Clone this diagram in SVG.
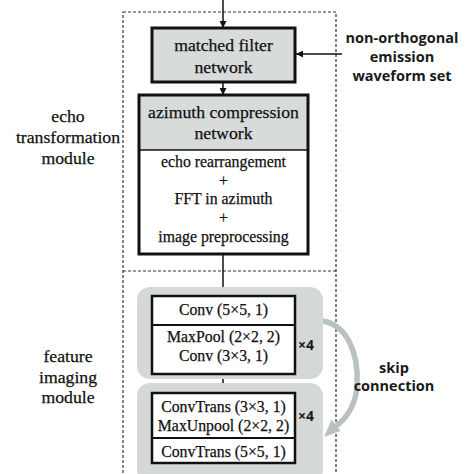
<svg xmlns="http://www.w3.org/2000/svg" width="474" height="474" viewBox="0 0 474 474">
<style>
.serif{font-family:"Liberation Serif","Times New Roman",serif;fill:#111;stroke:#111;stroke-width:0.25;text-anchor:middle}
.h{font-size:17.7px}
.b{font-size:15.8px}
.sans{font-family:"Open Sans","Liberation Sans",sans-serif;font-weight:700;font-size:14.5px;fill:#1a1a1a;text-anchor:middle}
.x4{font-family:"Open Sans","Liberation Sans",sans-serif;font-weight:700;font-size:14px;fill:#1a1a1a}
.gbox{stroke:#111;stroke-width:3;fill:#d7dbda}
.inner{stroke:#111;stroke-width:2.5;fill:#fff}
.grp{fill:#d4d9d8}
.dash{fill:none;stroke:#333;stroke-width:1.2;stroke-dasharray:3 2}
.ln{stroke:#111;stroke-width:1.5;fill:none}
</style>
<defs>
<marker id="ah" viewBox="0 0 10 10" refX="10" refY="5" markerWidth="7" markerHeight="7" markerUnits="userSpaceOnUse" orient="auto">
<path d="M0,0 L10,5 L0,10 z" fill="#111"/>
</marker>
</defs>

<g id="modules">
<rect class="dash" x="123" y="12" width="213" height="470"/>
<line class="dash" x1="123" y1="271" x2="336" y2="271"/>
</g>

<g id="connectors">
<line class="ln" x1="223" y1="0" x2="223" y2="28" marker-end="url(#ah)"/>
<line class="ln" x1="342" y1="54" x2="296" y2="54" marker-end="url(#ah)"/>
<line class="ln" x1="223" y1="82" x2="223" y2="95" marker-end="url(#ah)"/>
<line class="ln" x1="223" y1="254" x2="223" y2="296" marker-end="url(#ah)"/>
<line class="ln" x1="223" y1="374" x2="223" y2="393" marker-end="url(#ah)"/>
<line class="ln" x1="223" y1="463" x2="223" y2="474"/>
<path d="M322 321 C346 324 359 352 357 385 C356 405 346 419 335 427" fill="none" stroke="#b9c2c0" stroke-width="5.5"/>
<path d="M324 437 L340.5 431 L331.5 419.5 z" fill="#b9c2c0"/>
</g>

<g id="matched-filter">
<rect class="gbox" x="152" y="28" width="143" height="54"/>
<text class="serif h" x="223.5" y="51">matched filter</text>
<text class="serif h" x="223.5" y="73">network</text>
</g>

<g id="azimuth-compression">
<rect x="139" y="95" width="169" height="55" fill="#d7dbda"/>
<rect x="139" y="95" width="169" height="159" fill="none" stroke="#111" stroke-width="3"/>
<line x1="139" y1="150" x2="308" y2="150" stroke="#111" stroke-width="1.5"/>
<text class="serif h" x="223.5" y="118">azimuth compression</text>
<text class="serif h" x="223.5" y="139">network</text>
<text class="serif b" x="223.5" y="167">echo rearrangement</text>
<text class="serif b" x="223.5" y="186">+</text>
<text class="serif b" x="223.5" y="204">FFT in azimuth</text>
<text class="serif b" x="223.5" y="223">+</text>
<text class="serif b" x="223.5" y="242">image preprocessing</text>
</g>

<g id="encoder">
<rect class="grp" x="137" y="287" width="186" height="92" rx="13"/>
<rect class="inner" x="152" y="296" width="143" height="78"/>
<line x1="152" y1="325" x2="295" y2="325" stroke="#111" stroke-width="2"/>
<text class="serif b" x="223.5" y="315">Conv (5×5, 1)</text>
<text class="serif b" x="223.5" y="342">MaxPool (2×2, 2)</text>
<text class="serif b" x="223.5" y="361">Conv (3×3, 1)</text>
<text class="x4" x="298" y="350">×4</text>
</g>

<g id="decoder">
<rect class="grp" x="137" y="383" width="186" height="100" rx="13"/>
<rect class="inner" x="152" y="393" width="143" height="70"/>
<line x1="152" y1="438" x2="295" y2="438" stroke="#111" stroke-width="2"/>
<text class="serif b" x="223.5" y="412">ConvTrans (3×3, 1)</text>
<text class="serif b" x="223.5" y="431">MaxUnpool (2×2, 2)</text>
<text class="serif b" x="223.5" y="457">ConvTrans (5×5, 1)</text>
<text class="x4" x="298" y="421">×4</text>
</g>

<g id="labels">
<text class="serif h" x="68" y="122">echo</text>
<text class="serif h" x="68" y="143">transformation</text>
<text class="serif h" x="68" y="164">module</text>
<text class="serif h" x="68" y="362">feature</text>
<text class="serif h" x="68" y="383">imaging</text>
<text class="serif h" x="68" y="403">module</text>
<text class="sans" x="402" y="43">non-orthogonal</text>
<text class="sans" x="402" y="62">emission</text>
<text class="sans" x="402" y="81">waveform set</text>
<text class="sans" x="394" y="373">skip</text>
<text class="sans" x="394" y="391">connection</text>
</g>
</svg>
